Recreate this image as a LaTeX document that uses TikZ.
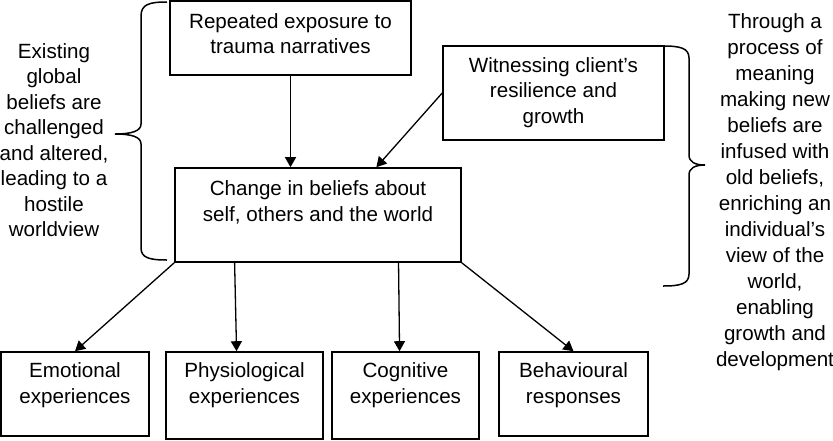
\documentclass[tikz,border=0pt]{standalone}
\usepackage{fontspec}
\setmainfont{Liberation Sans}
\usetikzlibrary{arrows.meta,calc}
\begin{document}
\begin{tikzpicture}[x=1pt,y=-1pt,
  box/.style={draw,line width=1.6pt,inner sep=0pt},
  txt/.style={align=center,inner sep=0pt,anchor=base,font=\fontsize{20.6}{25.5}\selectfont},
  arr/.style={line width=1.3pt,-{Triangle[length=10pt,width=11pt]}},
  bracepath/.style={line width=1.5pt}]
\useasboundingbox (0,0) rectangle (833,440);

% boxes
\node[box,minimum width=241,minimum height=74] (top) at (290.5,38) {};
\node[box,minimum width=286,minimum height=94] (mid) at (318,215) {};
\node[box,minimum width=221,minimum height=94] (wit) at (553.5,93) {};
\node[box,minimum width=148,minimum height=84] (emo) at (75,394) {};
\node[box,minimum width=157,minimum height=87] (phy) at (244.5,395.5) {};
\node[box,minimum width=147,minimum height=87] (cog) at (405.5,395.5) {};
\node[box,minimum width=149,minimum height=84] (beh) at (573.5,394) {};

% box texts (anchor = baseline of last line)
\node[txt] (toptxt) at ($(top.north)+(0,53.5)$) {Repeated exposure to\\trauma narratives};
\node[txt] (midtxt) at ($(mid.north)+(0,54)$) {Change in beliefs about\\self, others and the world};
\node[txt] (wittxt) at ($(wit.north)+(0,78)$) {Witnessing client’s\\resilience and\\growth};
\node[txt] (emotxt) at ($(emo.north)+(0,52)$) {Emotional\\experiences};
\node[txt] (phytxt) at ($(phy.north)+(0,52)$) {Physiological\\experiences};
\node[txt] (cogtxt) at ($(cog.north)+(0,52)$) {Cognitive\\experiences};
\node[txt] (behtxt) at ($(beh.north)+(0,52)$) {Behavioural\\responses};

% side texts
\node[txt] (lefttxt) at (54,236.5) {Existing\\global\\beliefs are\\challenged\\and altered,\\leading to a\\hostile\\worldview};
\node[txt,font=\fontsize{20.6}{26}\selectfont] (righttxt) at (775,366) {Through a\\process of\\meaning\\making new\\beliefs are\\infused with\\old beliefs,\\enriching an\\individual’s\\view of the\\world,\\enabling\\growth and\\development};

% braces
\draw[bracepath] (167,2) .. controls (150,2) and (141,4) .. (141,16) -- (141,124)
  .. controls (141,131) and (132,134) .. (115,134)
  .. controls (132,134) and (141,137) .. (141,144) -- (141,248)
  .. controls (141,258) and (150,260) .. (167,260);
\draw[bracepath] (663,46) .. controls (680,46) and (689,48) .. (689,58) -- (689,155)
  .. controls (689,162) and (695,165) .. (705,165)
  .. controls (695,165) and (689,168) .. (689,175) -- (689,274)
  .. controls (689,284) and (680,286) .. (663,286);

% connectors
\draw[arr] (top.south) -- (top.south |- mid.north);
\draw[arr] (wit.west) -- ($(mid.north west)!0.703!(mid.north east)$);
\draw[arr] (mid.south west) -- (emo.north);
\draw[arr] ($(mid.south west)!0.21!(mid.south east)$) -- ($(phy.north west)!0.45!(phy.north east)$);
\draw[arr] ($(mid.south west)!0.78!(mid.south east)$) -- ($(cog.north west)!0.46!(cog.north east)$);
\draw[arr] (mid.south east) -- (beh.north);
\end{tikzpicture}
\end{document}
